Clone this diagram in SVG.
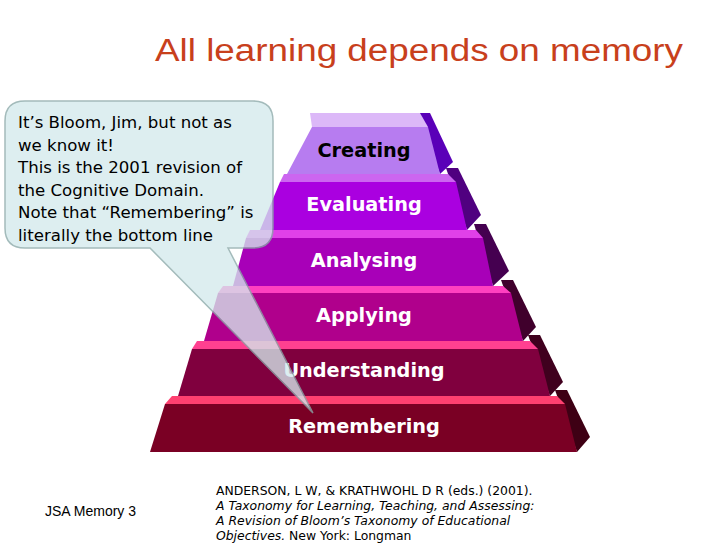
<svg xmlns="http://www.w3.org/2000/svg" width="728" height="546" viewBox="0 0 728 546">
<style>
.lbl{font-family:"DejaVu Sans",Verdana,sans-serif;font-weight:bold;font-size:19.3px;fill:#fff;text-anchor:middle}
.co{font-family:"DejaVu Sans",Verdana,sans-serif;font-size:16.6px;fill:#000}
.ref{font-family:"DejaVu Sans",Verdana,sans-serif;font-size:12.4px;fill:#000}
</style>
<rect width="728" height="546" fill="#fff"/>
<text x="155" y="61" textLength="528" lengthAdjust="spacingAndGlyphs" font-family="'Liberation Sans',Arial,sans-serif" font-size="31" fill="#c8401c">All learning depends on memory</text>
<g id="remembering">
<polygon points="555,390 567,390 590,437 577,452" fill="#3e0014"/>
<polygon points="172,396 557,396 565,404 165,404" fill="#ff4070"/>
<polygon points="165,404 565,404 577,452 150,452" fill="#7a0024"/>
<text class="lbl" x="364" y="433">Remembering</text>
</g>
<g id="understanding">
<polygon points="528,335 540,335 563,382 550,396" fill="#40001e"/>
<polygon points="197,341 530,341 538,349 192,349" fill="#ff4090"/>
<polygon points="192,349 538,349 550,396 178,396" fill="#80003e"/>
<text class="lbl" x="364" y="377">Understanding</text>
</g>
<g id="applying">
<polygon points="501,280 513,280 536,327 523,341" fill="#40002c"/>
<polygon points="223,286 503,286 511,293 218,293" fill="#ff40c0"/>
<polygon points="218,293 511,293 523,341 204,341" fill="#b0008c"/>
<text class="lbl" x="364" y="322">Applying</text>
</g>
<g id="analysing">
<polygon points="474,224 486,224 509,271 493,286" fill="#450050"/>
<polygon points="250,230 476,230 483,238 246,238" fill="#e040e8"/>
<polygon points="246,238 483,238 493,286 233,286" fill="#a800b8"/>
<text class="lbl" x="364" y="267">Analysing</text>
</g>
<g id="evaluating">
<polygon points="446,168 458,168 481,215 467,230" fill="#500080"/>
<polygon points="284,174 448,174 456,182 280,182" fill="#cc66f0"/>
<polygon points="280,182 456,182 467,230 260,230" fill="#aa00e0"/>
<text class="lbl" x="364" y="211">Evaluating</text>
</g>
<g id="creating">
<polygon points="418,113 430,113 453,162 440,174" fill="#5a00b8"/>
<polygon points="310,113 420,113 428,127 312,127" fill="#dcb8f8"/>
<polygon points="312,127 428,127 440,174 287,174" fill="#b77cf0"/>
<text class="lbl" x="364" y="157" style="fill:#000">Creating</text>
</g>
<g id="callout" opacity="0.78">
<path d="M25,101 H253 Q273,101 273,121 V228 Q273,248 253,248 H228 L313,413 L150,248 H25 Q5,248 5,228 V121 Q5,101 25,101 Z" fill="#d4eaec" stroke="#8aa8a8" stroke-width="1.5"/>
</g>
<g id="callout-text">
<text class="co" x="18" y="128">It’s Bloom, Jim, but not as</text>
<text class="co" x="18" y="151">we know it!</text>
<text class="co" x="18" y="173">This is the 2001 revision of</text>
<text class="co" x="18" y="196">the Cognitive Domain.</text>
<text class="co" x="18" y="218">Note that “Remembering” is</text>
<text class="co" x="18" y="241">literally the bottom line</text>
</g>
<g id="reference">
<text class="ref" x="216" y="495">ANDERSON, L W, &amp; KRATHWOHL D R (eds.) (2001).</text>
<text class="ref" x="216" y="510" font-style="italic">A Taxonomy for Learning, Teaching, and Assessing:</text>
<text class="ref" x="216" y="525" font-style="italic">A Revision of Bloom’s Taxonomy of Educational</text>
<text class="ref" x="216" y="540"><tspan font-style="italic">Objectives.</tspan> New York: Longman</text>
</g>
<text x="45" y="516" font-family="'Liberation Sans',Arial,sans-serif" font-size="14">JSA Memory 3</text>
</svg>
